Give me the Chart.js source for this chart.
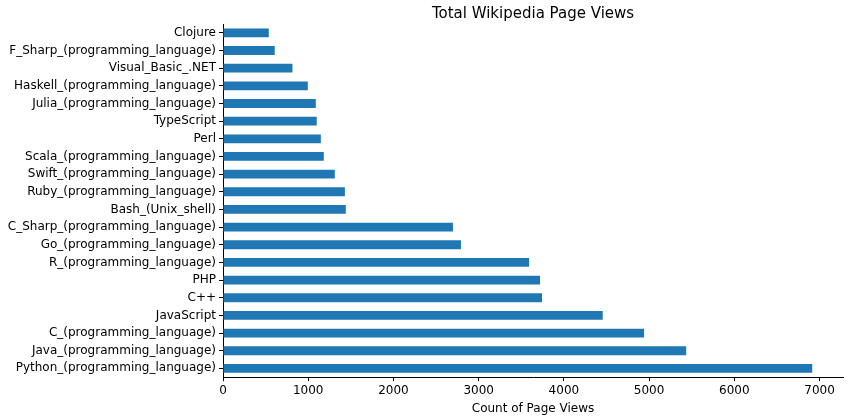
<!DOCTYPE html>
<html>
<head>
<meta charset="utf-8">
<script src="https://cdn.jsdelivr.net/npm/chart.js@4"></script>
<style>
  html, body { margin: 0; padding: 0; background: #fff; }
  #wrap { width: 852px; height: 420px; }
</style>
</head>
<body>
<div id="wrap"><canvas id="myChart"></canvas></div>
<script>
// languages, top to bottom as in the picture
const languages = [
	"Clojure", "F_Sharp_(programming_language)", "Visual_Basic_.NET",
	"Haskell_(programming_language)", "Julia_(programming_language)", "TypeScript",
	"Perl", "Scala_(programming_language)", "Swift_(programming_language)",
	"Ruby_(programming_language)", "Bash_(Unix_shell)", "C_Sharp_(programming_language)",
	"Go_(programming_language)", "R_(programming_language)", "PHP", "C++",
	"JavaScript", "C_(programming_language)", "Java_(programming_language)",
	"Python_(programming_language)"
];
const pageViews = [
	537, 607, 815, 995, 1089, 1100, 1148, 1183, 1312, 1430,
	1441, 2698, 2792, 3591, 3720, 3743, 4456, 4941, 5435, 6914
];
const xTicks = [0, 1000, 2000, 3000, 4000, 5000, 6000, 7000];

const font = "'DejaVu Sans', sans-serif";

const chart = new Chart(document.getElementById("myChart"), {
	type: "bar",
	data: {
		labels: languages,
		datasets: [{
			data: pageViews,
			backgroundColor: "#1f77b4",
			barPercentage: 0.5,
			categoryPercentage: 1.0
		}]
	},
	options: {
		indexAxis: "y",
		responsive: true,
		maintainAspectRatio: false,
		animation: false,
		layout: { padding: { left: 0, right: 9, top: 3, bottom: 4 } },
		plugins: {
			legend: { display: false },
			tooltip: { enabled: false },
			title: {
				display: true,
				text: "Total Wikipedia Page Views",
				color: "#000",
				fullSize: false,
				font: { family: font, size: 15, weight: "normal" },
				padding: { top: 2, bottom: 1 }
			}
		},
		scales: {
			x: {
				min: 0,
				max: 7275,
				afterBuildTicks: s => { s.ticks = xTicks.map(v => ({ value: v })); },
				grid: { drawOnChartArea: false, drawTicks: true, tickLength: 4, color: "#000" },
				border: { display: true, color: "#000", width: 1 },
				ticks: { color: "#000", font: { family: font, size: 12 }, padding: 2, maxRotation: 0, callback: v => String(v) },
				title: {
					display: true,
					text: "Count of Page Views",
					color: "#000",
					font: { family: font, size: 12 },
					padding: { top: 2, bottom: 0 }
				}
			},
			y: {
				afterFit: s => { s.width = 223; },
				grid: { drawOnChartArea: false, drawTicks: true, tickLength: 4, color: "#000", offset: false },
				border: { display: true, color: "#000", width: 1 },
				ticks: { color: "#000", font: { family: font, size: 12 }, padding: 3, autoSkip: false }
			}
		}
	}
});
</script>
</body>
</html>
